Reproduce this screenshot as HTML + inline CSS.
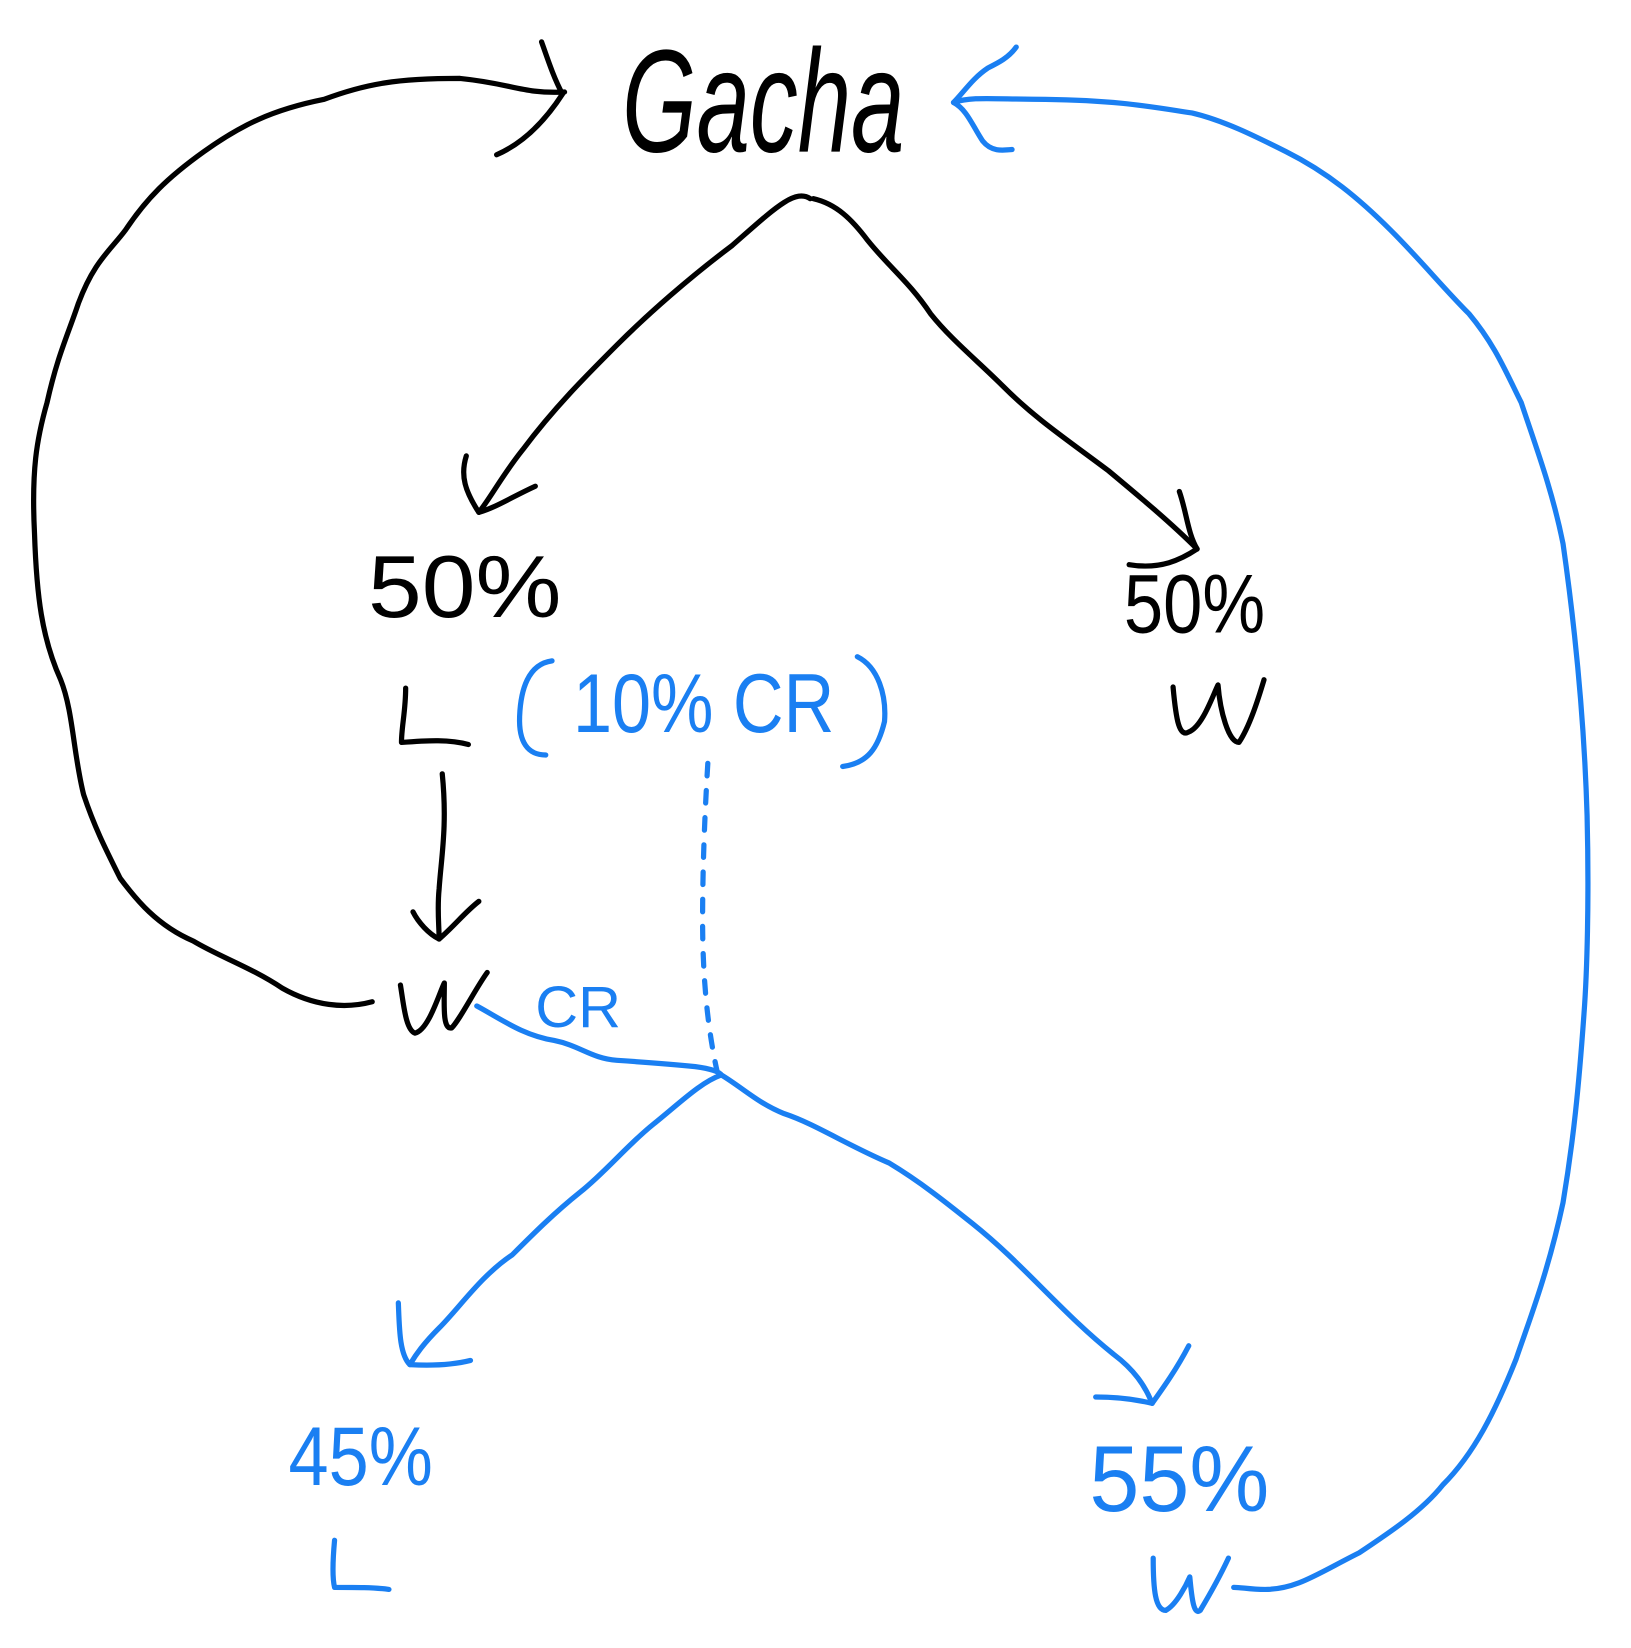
<!DOCTYPE html>
<html><head><meta charset="utf-8"><style>
html,body{margin:0;padding:0;background:#fff;width:1631px;height:1648px;overflow:hidden}
svg{display:block}
text{font-family:"Liberation Sans",sans-serif;font-weight:normal}
</style></head><body>
<svg width="1631" height="1648" viewBox="0 0 1560 1576" preserveAspectRatio="none" xmlns="http://www.w3.org/2000/svg">
<g fill="none" stroke-linecap="round" stroke-linejoin="round" stroke-width="5">
<g stroke="#000">
<path d="M356 958 C330 965 300 962 270 945 C240 925 210 915 185 900 C150 885 130 860 115 840 C100 810 90 790 80 760 C70 720 70 680 58 650 C40 610 35 570 33 510 C30 450 35 420 45 385 C55 340 65 320 75 290 C90 250 105 240 120 220 C140 190 160 170 195 145 C230 120 260 105 310 95 C350 80 380 75 440 75 C490 80 500 90 540 88"/>
<path d="M518 40 C525 60 530 75 538 90 C525 110 505 135 475 148"/>
<path d="M775 190 C760 180 740 200 700 235 C660 265 620 300 590 330 C560 360 530 390 500 430 C480 455 470 475 458 490"/>
<path d="M446 436 C440 455 445 470 458 490 C475 485 490 475 512 465"/>
<path d="M778 190 C800 195 815 210 830 230 C850 255 870 270 890 300 C910 325 935 345 960 370 C990 400 1020 420 1060 450 C1090 475 1120 500 1145 525"/>
<path d="M1128 470 C1135 490 1136 510 1145 525 C1130 535 1110 545 1080 540"/>
<path d="M423 740 C428 790 422 820 420 850 C418 870 420 885 420 898"/>
<path d="M395 872 C400 882 410 893 420 898 C435 885 445 872 458 862"/>
<path d="M388 658 C388 680 384 695 384 710 C410 708 430 707 448 712"/>
<path d="M383 942 C386 960 388 985 397 988 C410 985 420 950 425 940 C425 960 423 985 432 983 C440 975 455 945 466 930"/>
<path d="M1122 657 C1125 690 1128 705 1137 700 C1150 695 1160 665 1165 655 C1167 680 1175 710 1185 710 C1195 695 1203 670 1209 650"/>
</g>
<g stroke="#1a7ff2">
<path d="M912 98 C930 92 950 95 1000 95 C1070 96 1100 102 1140 108 C1170 115 1200 130 1230 145 C1270 165 1300 190 1330 220 C1360 250 1380 275 1405 300 C1430 330 1440 355 1455 385 C1470 430 1485 470 1495 520 C1505 590 1515 680 1518 780 C1520 860 1518 930 1515 970 C1510 1040 1505 1090 1495 1150 C1480 1220 1460 1270 1450 1300 C1430 1350 1410 1390 1380 1420 C1360 1445 1330 1465 1300 1485 C1260 1505 1240 1520 1210 1520 C1195 1520 1188 1518 1180 1518"/>
<path d="M972 45 C965 55 955 60 945 65 C930 75 922 88 912 98 C925 105 930 120 940 135 C948 145 958 144 968 143"/>
<path d="M456 962 C480 975 500 990 530 995 C555 1000 565 1012 590 1014 C620 1016 645 1018 665 1020 C680 1022 688 1025 690 1028"/>
<path d="M690 1028 C670 1035 650 1055 625 1075 C600 1095 580 1120 555 1140 C530 1160 510 1180 490 1200 C460 1220 440 1250 420 1270 C405 1285 398 1295 392 1305"/>
<path d="M381 1246 C382 1270 382 1295 392 1305 C410 1306 430 1306 450 1301"/>
<path d="M690 1028 C710 1040 725 1055 750 1065 C780 1075 810 1095 850 1112 C880 1130 905 1150 930 1170 C955 1190 975 1210 995 1230 C1020 1255 1040 1275 1065 1295 C1085 1310 1095 1325 1102 1342"/>
<path d="M1137 1287 C1125 1310 1112 1328 1102 1342 C1085 1338 1065 1336 1048 1336"/>
<path stroke-dasharray="12 14" d="M677 730 C674 780 672 830 672 880 C672 930 676 980 686 1025"/>
<path d="M528 632 C505 635 498 660 497 685 C496 710 505 722 522 722"/>
<path d="M820 628 C840 638 848 665 846 690 C840 715 830 730 806 733"/>
<path d="M320 1473 C318 1495 318 1510 320 1518 C340 1518 358 1518 372 1520"/>
<path d="M1103 1490 C1103 1520 1105 1540 1115 1540 C1125 1535 1135 1515 1138 1508 C1140 1530 1142 1545 1148 1540 C1160 1520 1168 1505 1175 1490"/>
</g>
</g>
<text x="595" y="145" font-size="140" fill="#000" font-style="italic" textLength="270" lengthAdjust="spacingAndGlyphs">Gacha</text>
<text x="352" y="590" font-size="84" fill="#000" textLength="185" lengthAdjust="spacingAndGlyphs">50%</text>
<text x="1075" y="605" font-size="80" fill="#000" textLength="135" lengthAdjust="spacingAndGlyphs">50%</text>
<text x="548" y="700" font-size="80" fill="#1a7ff2" textLength="250" lengthAdjust="spacingAndGlyphs">10% CR</text>
<text x="512" y="982" font-size="56" fill="#1a7ff2" textLength="82" lengthAdjust="spacingAndGlyphs">CR</text>
<text x="276" y="1420" font-size="80" fill="#1a7ff2" textLength="138" lengthAdjust="spacingAndGlyphs">45%</text>
<text x="1042" y="1445" font-size="90" fill="#1a7ff2" textLength="172" lengthAdjust="spacingAndGlyphs">55%</text>
</svg>
</body></html>
